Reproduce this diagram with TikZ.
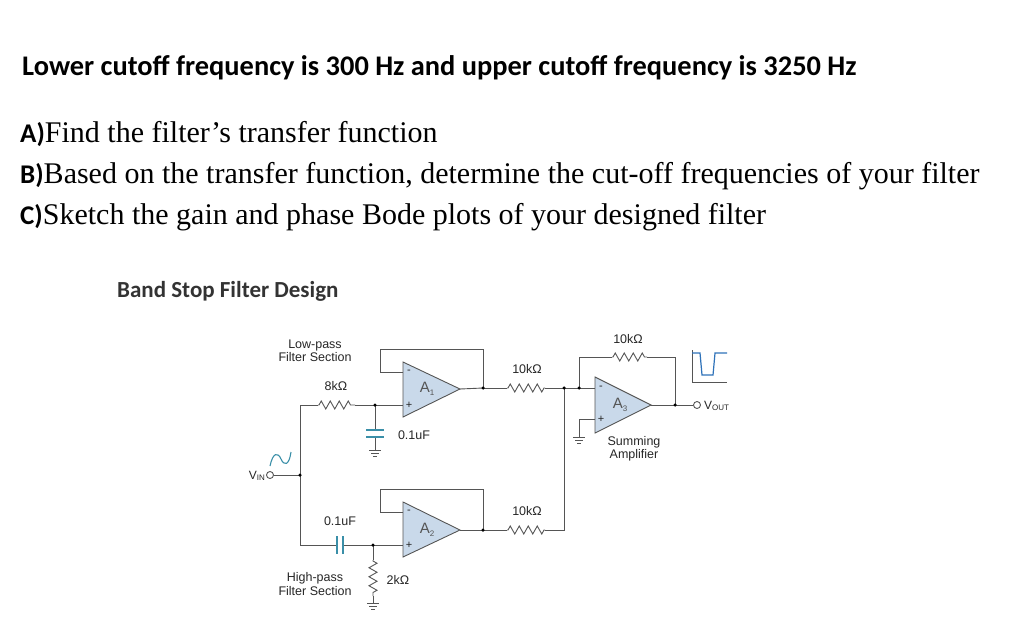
\documentclass[tikz,border=0pt]{standalone}
\usepackage{fontspec}
\setmainfont{Liberation Serif}
\newfontfamily\calf{Carlito}
\newfontfamily\ars{Liberation Sans}
\usetikzlibrary{decorations.pathmorphing}
\definecolor{oa}{HTML}{C9D9EA}
\definecolor{capc}{HTML}{3A8FA8}
\definecolor{wire}{HTML}{555555}
\begin{document}
\begin{tikzpicture}[x=1pt,y=-1pt,
  w/.style={draw=wire,line width=0.9pt},
  res/.style={w,decorate,decoration={zigzag,segment length=9pt,amplitude=4pt,pre length=1pt,post length=1pt}},
  opamp/.style={draw=wire,line width=0.9pt,fill=oa},
  dot/.style={circle,fill=black,inner sep=0pt,minimum size=3.5pt},
  term/.style={circle,draw=wire,fill=white,line width=0.9pt,inner sep=0pt,minimum size=7pt},
  lab/.style={font=\ars\fontsize{12.5}{13.5}\selectfont,text=black!85,align=center,inner sep=0pt},
  pics/gnd/.style={code={\draw[w] (0,0)--(0,-5) (-6,0)--(6,0) (-4,3)--(4,3) (-2,6)--(2,6);}}]
\useasboundingbox (0,0) rectangle (1024,632);
% texts
\node[anchor=west,inner sep=0pt,font=\calf\bfseries\fontsize{28.4}{30}\selectfont] (t0) at (22,68) {Lower cutoff frequency is 300 Hz and upper cutoff frequency is 3250 Hz};
\node[anchor=west,inner sep=0pt,font=\fontsize{30}{32}\selectfont] (ta) at (20,134) {{\calf\bfseries\fontsize{27}{30}\selectfont A)}Find the filter's transfer function};
\node[anchor=west,inner sep=0pt,font=\fontsize{30}{32}\selectfont] (tb) at (20,176) {{\calf\bfseries\fontsize{27}{30}\selectfont B)}Based on the transfer function, determine the cut-off frequencies of your filter};
\node[anchor=west,inner sep=0pt,font=\fontsize{30}{32}\selectfont] (tc) at (20,217) {{\calf\bfseries\fontsize{27}{30}\selectfont C)}Sketch the gain and phase Bode plots of your designed filter};
\node[anchor=west,inner sep=0pt,font=\calf\bfseries\fontsize{23}{26}\selectfont,text=black!80] (td) at (117,291) {Band Stop Filter Design};
% op amps
\draw[opamp] (403,362)--(460,389)--(403,417)--cycle;
\draw[opamp] (403,502)--(460,530)--(403,557)--cycle;
\draw[opamp] (595,377)--(651,405)--(595,433)--cycle;
\node[lab,font=\ars\fontsize{15}{15}\selectfont,text=wire] (a1) at (427,389) {A{\fontsize{8}{8}\selectfont\raisebox{-3pt}{1}}};
\node[lab,font=\ars\fontsize{15}{15}\selectfont,text=wire] (a2) at (427,530) {A{\fontsize{8}{8}\selectfont\raisebox{-3pt}{2}}};
\node[lab,font=\ars\fontsize{15}{15}\selectfont,text=wire] (a3) at (620,405) {A{\fontsize{8}{8}\selectfont\raisebox{-3pt}{3}}};
\foreach \x/\y in {409/372,409/512,601/388}{\node[lab,font=\ars\fontsize{11}{11}\selectfont] at (\x,\y) {-};}
\foreach \x/\y in {409/405,409/545,601/419}{\node[lab,font=\ars\fontsize{11}{11}\selectfont] at (\x,\y) {+};}
% coordinates
\coordinate (vin) at (270,475); \coordinate (jin) at (300,475);
\coordinate (j1) at (375,405); \coordinate (j2) at (373,545);
\coordinate (o1) at (483,388); \coordinate (o2) at (483,530);
\coordinate (js) at (564,388); \coordinate (jf) at (579,388);
\coordinate (o3) at (675,405);
% input
\node[term] (vinn) at (vin) {};
\node[lab,anchor=east,font=\ars\fontsize{12}{12}\selectfont] (vinl) at (265,476) {V{\fontsize{8}{8}\selectfont\raisebox{-1pt}{IN}}};
\draw[draw=capc,line width=1.1pt] (270,466) .. controls (273,452) and (278,452) .. (281,459) .. controls (284,466) and (289,466) .. (291,452);
\draw[w] (vinn)--(jin);
\draw[w] (300,405)--(300,545);
% low-pass
\draw[w] (300,405)--(318,405); \draw[res] (318,405)--(355,405); \draw[w] (355,405)--(403,405);
\draw[w] (j1)--(375,430) (375,437)--(375,450);
\draw[draw=capc,line width=2.5pt] (366,430)--(384,430) (366,437)--(384,437);
\pic at (375,450) {gnd};
\draw[w] (403,372)--(380,372)--(380,349)--(483,349)--(o1);
\draw[w] (460,389)--(o1);
% high-pass
\draw[w] (300,545)--(337,545) (343,545)--(403,545);
\draw[draw=capc,line width=2.5pt] (337,536)--(337,554) (343,536)--(343,554);
\draw[w] (j2)--(373,560); \draw[res] (373,560)--(373,596); \draw[w] (373,596)--(373,603);
\pic at (373,603) {gnd};
\draw[w] (403,512)--(380,512)--(380,489)--(483,489)--(o2);
\draw[w] (460,530)--(o2);
% summing
\draw[w] (o1)--(507,388); \draw[res] (507,388)--(545,388); \draw[w] (545,388)--(595,388);
\draw[w] (o2)--(507,530); \draw[res] (507,530)--(545,530); \draw[w] (545,530)--(564,530)--(js);
\draw[w] (595,419)--(579,419)--(579,437);
\pic at (579,437) {gnd};
\draw[w] (jf)--(579,357)--(612,357); \draw[res] (612,357)--(647,357); \draw[w] (647,357)--(675,357)--(o3);
\draw[w] (651,405)--(o3);
\node[term] (vout) at (697,405) {};
\draw[w] (o3)--(vout);
\node[lab,anchor=west,font=\ars\fontsize{12}{12}\selectfont] (voutl) at (704,406) {V{\fontsize{8}{8}\selectfont\raisebox{-1pt}{OUT}}};
% icon
\draw[draw=wire,line width=0.8pt] (692,350)--(692,382)--(727,382);
\draw[draw=capc!80!blue,line width=1.2pt] (692,353)--(700,353)--(702,375)--(713,375)--(715,353)--(727,353);
% dots
\foreach \p in {jin,j1,j2,o1,o2,js,jf,o3}{\node[dot] at (\p) {};}
% labels
\node[lab] (l1) at (315,351) {Low-pass\\Filter Section};
\node[lab] (l2) at (315,584) {High-pass\\Filter Section};
\node[lab] (r1) at (336,386) {8kΩ};
\node[lab] (c1) at (414,435) {0.1uF};
\node[lab] (c2) at (340,521) {0.1uF};
\node[lab] (r2) at (398,580) {2kΩ};
\node[lab] (r3) at (527,369) {10kΩ};
\node[lab] (r4) at (527,511) {10kΩ};
\node[lab] (r5) at (628,339) {10kΩ};
\node[lab] (sa) at (634,449) {Summing\\Amplifier};
\end{tikzpicture}
\end{document}
